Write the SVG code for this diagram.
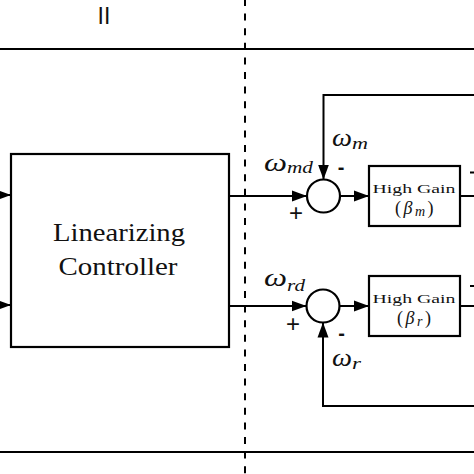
<svg xmlns="http://www.w3.org/2000/svg" width="474" height="474" viewBox="0 0 474 474">
<style>
.ln{fill:none;stroke:#000;stroke-width:2}
.box{fill:#fff;stroke:#000;stroke-width:2.2}
.serif{font-family:'Liberation Serif','DejaVu Serif',serif;fill:#111}
.it{font-family:'Liberation Serif','DejaVu Serif',serif;font-style:italic;fill:#111}
.sans{font-family:'Liberation Sans','DejaVu Sans',sans-serif;fill:#111}
</style>
<defs>
<marker id="ah" markerUnits="userSpaceOnUse" markerWidth="16" markerHeight="12" refX="15" refY="6" orient="auto">
<path d="M0,0.5 L15,6 L0,11.5 Z" fill="#000"/>
</marker>
</defs>
<g id="frame">
<line x1="0" y1="49" x2="474" y2="49" class="ln" stroke-width="1.8"/>
<line x1="0" y1="452" x2="474" y2="452" class="ln" stroke-width="1.8"/>
<line x1="245" y1="-1" x2="245" y2="474" class="ln" stroke-width="2.2" stroke-dasharray="7 7.6"/>
<text x="104" y="24" class="sans" font-size="23" text-anchor="middle">II</text>
</g>
<g id="connectors">
<path d="M-20,195 H11" class="ln" marker-end="url(#ah)"/>
<path d="M-20,305 H11" class="ln" marker-end="url(#ah)"/>
<path d="M229,196 H307" class="ln" marker-end="url(#ah)"/>
<path d="M229,306 H306.5" class="ln" marker-end="url(#ah)"/>
<path d="M340,196 H369" class="ln" marker-end="url(#ah)"/>
<path d="M339.5,306 H369" class="ln" marker-end="url(#ah)"/>
<path d="M460,196 H474" class="ln"/>
<path d="M460,306 H474" class="ln"/>
<path d="M474,95 H323.5 V179.5" class="ln" marker-end="url(#ah)"/>
<path d="M474,406 H323 V322.5" class="ln" marker-end="url(#ah)"/>
<path d="M470,172.5 H474 M470,286 H474" class="ln" stroke-width="1.2"/>
</g>
<g id="controller">
<rect x="11" y="154" width="218" height="193" class="box"/>
<text x="119" y="241" class="serif" font-size="26" text-anchor="middle" textLength="132" lengthAdjust="spacingAndGlyphs">Linearizing</text>
<text x="118" y="275" class="serif" font-size="26" text-anchor="middle" textLength="119" lengthAdjust="spacingAndGlyphs">Controller</text>
</g>
<g id="sum_m">
<circle cx="323.5" cy="196" r="16.5" class="box"/>
<text x="264" y="171" class="it" font-size="26" textLength="23" lengthAdjust="spacingAndGlyphs">ω</text>
<text x="287" y="173" class="it" font-size="17" textLength="26" lengthAdjust="spacingAndGlyphs">md</text>
<text x="332" y="146" class="it" font-size="26" textLength="20" lengthAdjust="spacingAndGlyphs">ω</text>
<text x="352" y="148.5" class="it" font-size="17" textLength="16" lengthAdjust="spacingAndGlyphs">m</text>
<text x="296" y="221" class="sans" font-size="24" text-anchor="middle">+</text>
<text x="341" y="174" class="sans" font-size="20" font-weight="bold" text-anchor="middle">-</text>
</g>
<g id="sum_r">
<circle cx="323" cy="306" r="16.5" class="box"/>
<text x="264" y="286" class="it" font-size="26" textLength="23" lengthAdjust="spacingAndGlyphs">ω</text>
<text x="287" y="291" class="it" font-size="17" textLength="18" lengthAdjust="spacingAndGlyphs">rd</text>
<text x="332" y="365.5" class="it" font-size="26" textLength="20" lengthAdjust="spacingAndGlyphs">ω</text>
<text x="352" y="368.5" class="it" font-size="17" textLength="9" lengthAdjust="spacingAndGlyphs">r</text>
<text x="293" y="331.5" class="sans" font-size="24" text-anchor="middle">+</text>
<text x="341.5" y="339.5" class="sans" font-size="20" font-weight="bold" text-anchor="middle">-</text>
</g>
<g id="hg_m">
<rect x="369" y="166" width="91" height="60" class="box"/>
<text x="414" y="193" class="serif" font-size="13" text-anchor="middle" textLength="83" lengthAdjust="spacingAndGlyphs">High Gain</text>
<text x="395" y="214" class="serif" font-size="18" letter-spacing="2.5">(<tspan class="it">β</tspan><tspan class="it" font-size="14" dy="2">m</tspan><tspan dy="-2">)</tspan></text>
</g>
<g id="hg_r">
<rect x="369" y="276" width="91" height="60" class="box"/>
<text x="414" y="303" class="serif" font-size="13" text-anchor="middle" textLength="83" lengthAdjust="spacingAndGlyphs">High Gain</text>
<text x="397" y="324" class="serif" font-size="18" letter-spacing="2.5">(<tspan class="it">β</tspan><tspan class="it" font-size="14" dy="2">r</tspan><tspan dy="-2">)</tspan></text>
</g>
</svg>
